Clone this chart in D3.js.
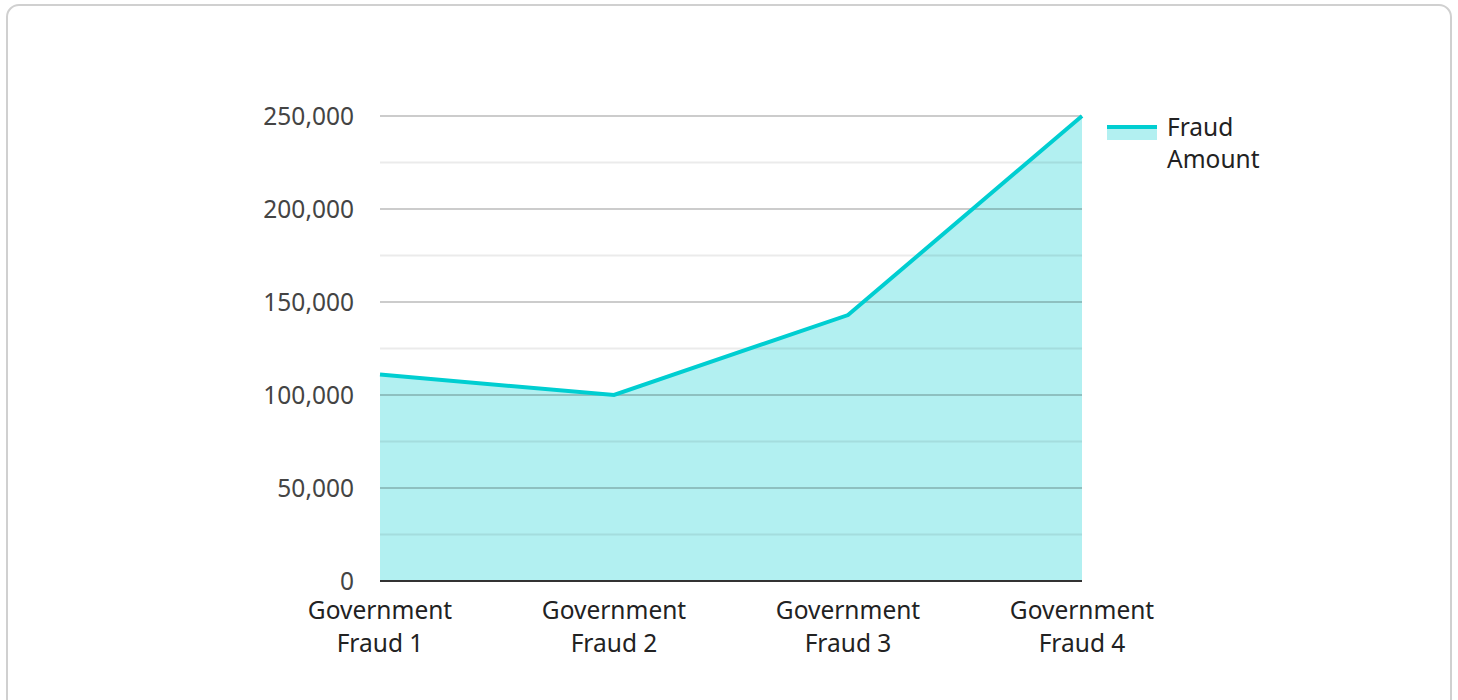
<!DOCTYPE html>
<html>
  <head>
    <meta charset="utf-8">
    <title>Fraud Amount</title>
    <script src="https://d3js.org/d3.v7.min.js"></script>
    <style>
      body { margin: 0; background: #fff; font-family: "Noto Sans", "Open Sans", sans-serif; }
    </style>
  </head>
  <body>
    <script>

      var categories = ["Government Fraud 1", "Government Fraud 2", "Government Fraud 3", "Government Fraud 4"];
      var fraudAmount = [111000, 100000, 143000, 250000];
      var majorTicks = [0, 50000, 100000, 150000, 200000, 250000];
      var minorTicks = [25000, 75000, 125000, 175000, 225000];
      var seriesName = ["Fraud", "Amount"];

      var width = 1458, height = 700;
      var plotLeft = 380, plotRight = 1082, plotTop = 116, plotBottom = 581;
      var teal = "#00ced1";
      var fontSize = "24.5px";

      var svg = d3.select("body")
                  .append("svg")
                  .attr("width", width)
                  .attr("height", height);

      // card border
      svg.append("rect")
         .attr("x", 7).attr("y", 5)
         .attr("width", 1444).attr("height", 720)
         .attr("rx", 12)
         .attr("fill", "#fff")
         .attr("stroke", "#d0d0d0")
         .attr("stroke-width", 2);

      var x = d3.scalePoint().domain(categories).range([plotLeft, plotRight]);
      var y = d3.scaleLinear().domain([0, 250000]).range([plotBottom, plotTop]);

      // area first, grid lines show through it
      var data = categories.map(function(c, i){ return {c: c, v: fraudAmount[i]}; });

      svg.append("path")
         .datum(data)
         .attr("fill", teal)
         .attr("fill-opacity", 0.3)
         .attr("d", d3.area()
            .x(function(d){ return x(d.c); })
            .y0(y(0))
            .y1(function(d){ return y(d.v); }));

      svg.selectAll("line.minor")
         .data(minorTicks)
         .enter()
         .append("line")
         .attr("class", "minor")
         .attr("x1", plotLeft).attr("x2", plotRight)
         .attr("y1", function(d){ return y(d); })
         .attr("y2", function(d){ return y(d); })
         .attr("stroke", "#000")
         .attr("stroke-opacity", 0.08)
         .attr("stroke-width", 2);

      svg.selectAll("line.major")
         .data(majorTicks.slice(1))
         .enter()
         .append("line")
         .attr("class", "major")
         .attr("x1", plotLeft).attr("x2", plotRight)
         .attr("y1", function(d){ return y(d); })
         .attr("y2", function(d){ return y(d); })
         .attr("stroke", "#000")
         .attr("stroke-opacity", 0.2)
         .attr("stroke-width", 2);

      svg.append("path")
         .datum(data)
         .attr("fill", "none")
         .attr("stroke", teal)
         .attr("stroke-width", 4)
         .attr("stroke-linejoin", "miter")
         .attr("d", d3.line()
            .x(function(d){ return x(d.c); })
            .y(function(d){ return y(d.v); }));

      // baseline
      svg.append("line")
         .attr("x1", plotLeft).attr("x2", plotRight)
         .attr("y1", y(0)).attr("y2", y(0))
         .attr("stroke", "#333")
         .attr("stroke-width", 2);

      // y labels
      svg.selectAll("text.ylab")
         .data(majorTicks)
         .enter()
         .append("text")
         .attr("class", "ylab")
         .attr("x", 354)
         .attr("y", function(d){ return y(d) + 9; })
         .attr("text-anchor", "end")
         .attr("fill", "#444")
         .style("font-size", fontSize)
         .text(function(d){ return d3.format(",")(d); });

      // x labels, two lines each
      var xl = svg.selectAll("text.xlab")
         .data(categories)
         .enter()
         .append("text")
         .attr("class", "xlab")
         .attr("text-anchor", "middle")
         .attr("fill", "#222")
         .style("font-size", fontSize);

      xl.append("tspan")
        .attr("x", function(d){ return x(d); })
        .attr("y", 619)
        .text(function(d){ return d.split(" ")[0]; });
      xl.append("tspan")
        .attr("x", function(d){ return x(d); })
        .attr("y", 652)
        .text(function(d){ return d.split(" ").slice(1).join(" "); });

      // legend
      svg.append("rect")
         .attr("x", 1107).attr("y", 127)
         .attr("width", 50).attr("height", 13)
         .attr("fill", teal)
         .attr("fill-opacity", 0.3);
      svg.append("line")
         .attr("x1", 1107).attr("x2", 1157)
         .attr("y1", 127).attr("y2", 127)
         .attr("stroke", teal)
         .attr("stroke-width", 4);
      svg.selectAll("text.leg")
         .data(seriesName)
         .enter()
         .append("text")
         .attr("class", "leg")
         .attr("x", 1167)
         .attr("y", function(d, i){ return 136 + i * 32; })
         .attr("fill", "#222")
         .style("font-size", fontSize)
         .text(function(d){ return d; });

    </script>
  </body>
</html>
